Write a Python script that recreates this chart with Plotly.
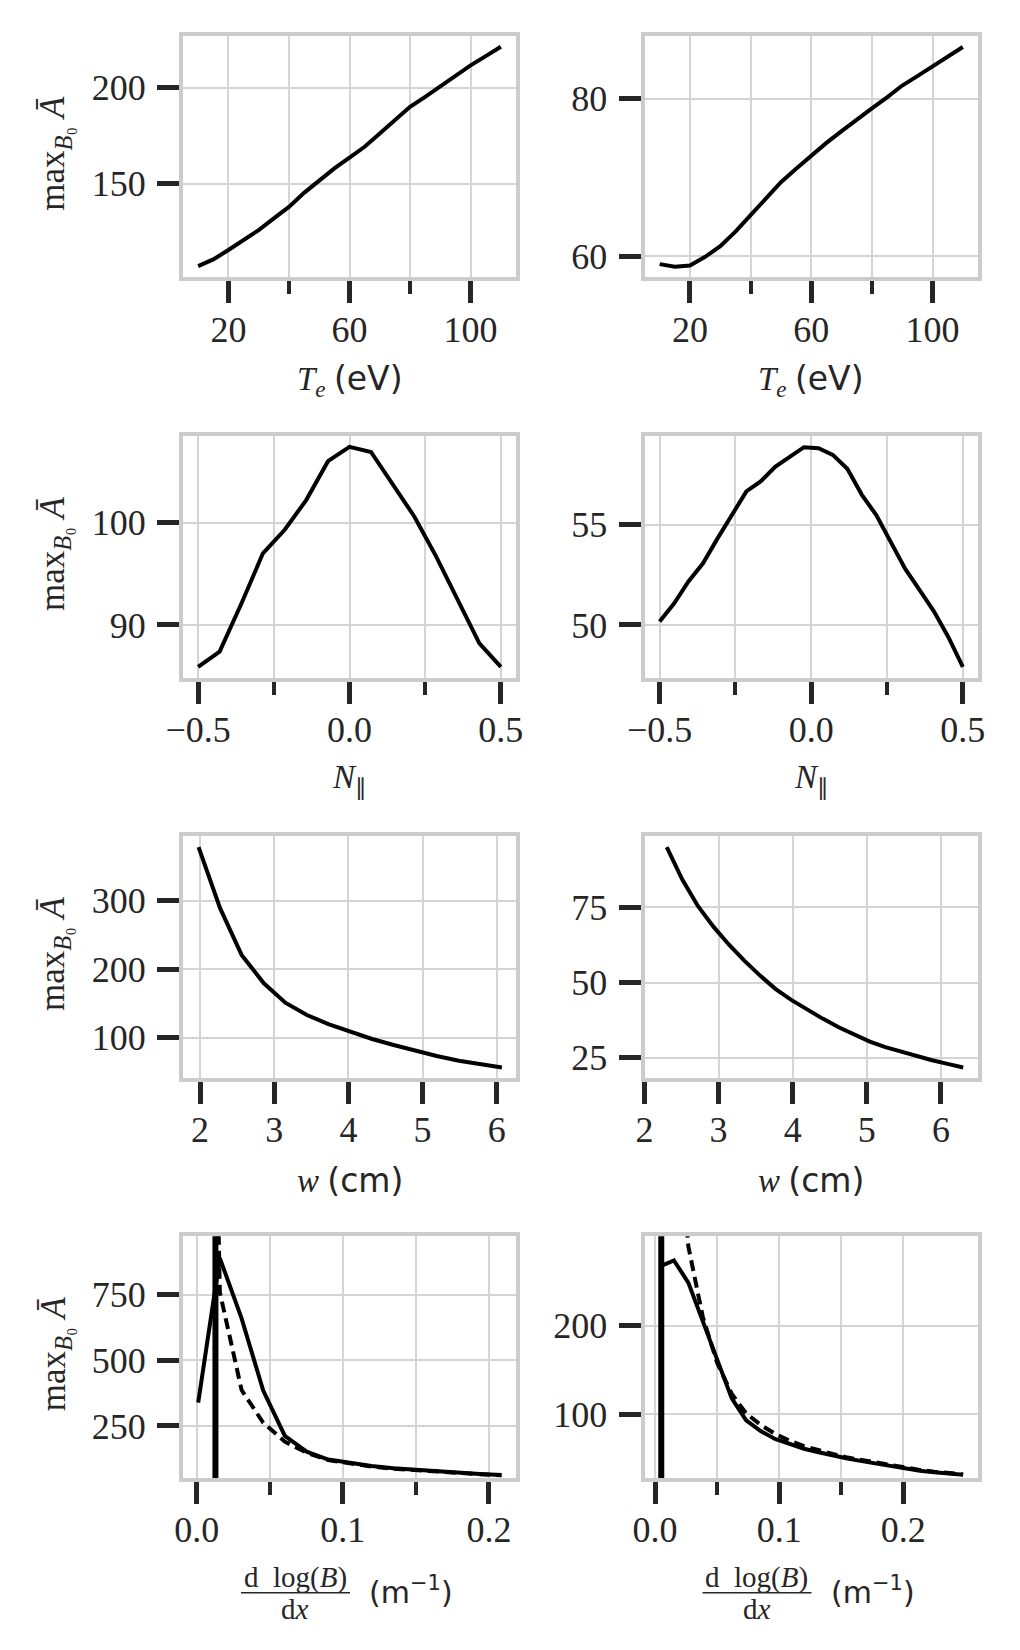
import plotly.graph_objects as go

# ---------------- data ----------------
te_ev = [10, 15, 20, 25, 30, 35, 40, 45, 50, 55, 60, 65, 70, 75, 80, 85, 90, 95, 100, 105, 110]
te_left = [107.1, 110.6, 115.5, 120.7, 125.9, 132.0, 138.0, 145.3, 151.9, 158.0, 163.7,
           169.3, 176.2, 183.5, 190.1, 195.3, 200.9, 206.1, 211.7, 216.5, 221.4]
te_right = [58.98, 58.64, 58.8, 59.9, 61.27, 63.1, 65.2, 67.3, 69.4, 71.1, 72.8,
            74.4, 75.9, 77.4, 78.8, 80.2, 81.7, 82.9, 84.1, 85.4, 86.6]

npar_left_x = [-0.5, -0.429, -0.357, -0.286, -0.214, -0.143, -0.071, 0.0,
               0.071, 0.143, 0.214, 0.286, 0.357, 0.429, 0.5]
npar_left_y = [85.9, 87.4, 92.1, 97.0, 99.3, 102.2, 106.0, 107.4,
               106.9, 103.7, 100.6, 96.7, 92.4, 88.2, 85.9]
npar_right_x = [-0.5, -0.452, -0.405, -0.357, -0.310, -0.262, -0.214, -0.167, -0.119, -0.071, -0.024,
                0.024, 0.071, 0.119, 0.167, 0.214, 0.262, 0.310, 0.357, 0.405, 0.452, 0.5]
npar_right_y = [50.17, 51.08, 52.17, 53.08, 54.3, 55.5, 56.67, 57.17, 57.9, 58.4, 58.88,
                58.83, 58.5, 57.8, 56.5, 55.5, 54.1, 52.8, 51.75, 50.67, 49.4, 47.9]

w_left_x = [1.98, 2.27, 2.56, 2.86, 3.15, 3.44, 3.73, 4.02, 4.32, 4.61, 4.90, 5.19, 5.49, 5.78, 6.07]
w_left_y = [378.6, 289.3, 221.0, 179.5, 151.1, 133.1, 119.9, 108.7, 98.0, 89.2, 80.9, 73.1, 66.3, 61.0, 56.5]
w_right_x = [2.30, 2.51, 2.72, 2.93, 3.14, 3.35, 3.56, 3.77, 3.98, 4.19, 4.41, 4.62, 4.83, 5.04,
             5.25, 5.46, 5.67, 5.88, 6.09, 6.30]
w_right_y = [95.1, 84.3, 75.5, 68.6, 62.6, 57.2, 52.3, 47.8, 44.2, 41.0, 37.9, 35.1, 32.6, 30.3,
             28.5, 27.0, 25.5, 24.1, 22.9, 21.7]

grad_left_x = [0.001, 0.0158, 0.0307, 0.0455, 0.0603, 0.0752, 0.0900, 0.1048, 0.1197, 0.1345,
               0.1493, 0.1642, 0.1790, 0.1938, 0.2086]
grad_left_solid = [339, 890, 660, 385, 212, 152, 122, 108, 97, 89, 83, 77, 72, 67, 63]
grad_left_dashed = [5000, 760, 387, 262, 190, 148, 120, 106, 95, 87, 81, 75, 70, 66, 62]

grad_right_x = [0.0035, 0.0152, 0.0268, 0.0385, 0.0501, 0.0618, 0.0734, 0.0851, 0.0967, 0.1084, 0.1200,
                0.1317, 0.1433, 0.1550, 0.1666, 0.1783, 0.1900, 0.2016, 0.2133, 0.2249, 0.2366, 0.2482]
grad_right_solid = [267, 274, 249, 205, 160, 118, 93, 81, 72, 66, 61, 57, 53, 50, 47, 44, 41, 38, 36,
                    34.5, 33, 31.5]
grad_right_dashed = [2100, 500, 290, 210, 158, 123, 101, 88, 78, 70, 64, 59, 55, 51, 48, 45, 42, 39.5,
                     37, 35, 33.5, 32]
grad_vline = [0.0128, 0.0050]

# tick definitions
te_major = [20, 60, 100]
te_major_text = ["20", "60", "100"]
te_minor = [40, 80]
npar_major = [-0.5, 0.0, 0.5]
npar_major_text = ["\u22120.5", "0.0", "0.5"]
npar_minor = [-0.25, 0.25]
w_major = [2, 3, 4, 5, 6]
w_major_text = ["2", "3", "4", "5", "6"]
grad_major = [0.0, 0.1, 0.2]
grad_major_text = ["0.0", "0.1", "0.2"]
grad_minor = [0.05, 0.15]

y_ticks = [[150, 200], [60, 80], [90, 100], [50, 55], [100, 200, 300], [25, 50, 75],
           [250, 500, 750], [100, 200]]
x_ranges = [[5, 115], [5, 115], [-0.55, 0.55], [-0.55, 0.55], [1.77, 6.26], [2.0, 6.5],
            [-0.0094, 0.2185], [-0.0085, 0.2602]]
y_ranges = [[101.3, 227.0], [57.3, 88.0], [84.82, 108.46], [47.35, 59.44], [41.0, 394.8],
            [18.2, 98.8], [51.5, 973.0], [27.9, 301.3]]

# ---------------- layout geometry (pixels) ----------------
W, H = 1020, 1650
col_px = [(183.0, 516.0), (644.5, 978.0)]
row_px = [(36.0, 277.3), (436.0, 678.0), (836.0, 1078.0), (1236.3, 1478.0)]

FRAME = "#cccccc"
GRID = "#d4d4d4"
INK = "#262626"
SERIF = "Liberation Serif"
SANS = "DejaVu Sans"
TICK_SIZE = 36

fig = go.Figure()

def ax_name(i):
    return "" if i == 1 else str(i)

x_tick_sets = [
    (te_major, te_major_text, te_minor), (te_major, te_major_text, te_minor),
    (npar_major, npar_major_text, npar_minor), (npar_major, npar_major_text, npar_minor),
    (w_major, w_major_text, []), (w_major, w_major_text, []),
    (grad_major, grad_major_text, grad_minor), (grad_major, grad_major_text, grad_minor),
]

layout = dict(width=W, height=H, margin=dict(l=0, r=0, t=0, b=0, autoexpand=False),
              plot_bgcolor="white", paper_bgcolor="white", showlegend=False)

for i in range(1, 9):
    r, c = (i - 1) // 2, (i - 1) % 2
    x0, x1 = col_px[c]
    yt, yb = row_px[r]
    major, major_text, minor = x_tick_sets[i - 1]
    common = dict(showline=True, linecolor=FRAME, linewidth=4, mirror=True, automargin=False,
                  showgrid=True, gridcolor=GRID, gridwidth=1.5, zeroline=False,
                  ticks="outside", tickwidth=5, ticklen=22, tickcolor=INK,
                  tickfont=dict(family=SERIF, size=TICK_SIZE, color=INK))
    xa = dict(common, domain=[x0 / W, x1 / W], anchor="y" + ax_name(i),
              range=x_ranges[i - 1], tickmode="array", tickvals=major, ticktext=major_text,
              ticklabelstandoff=-5)
    if minor:
        xa["minor"] = dict(tickmode="array", tickvals=minor, ticks="outside", ticklen=13,
                           tickwidth=4, tickcolor=INK, showgrid=True, gridcolor=GRID,
                           gridwidth=1.5)
    ya = dict(common, domain=[1 - yb / H, 1 - yt / H], anchor="x" + ax_name(i),
              range=y_ranges[i - 1], tickmode="array", tickvals=y_ticks[i - 1],
              ticktext=[str(v) for v in y_ticks[i - 1]], ticklabelstandoff=4)
    layout["xaxis" + ax_name(i)] = xa
    layout["yaxis" + ax_name(i)] = ya

fig.update_layout(**layout)

line_style = dict(color="black", width=4)

def add(i, x, y, dash=None):
    st = dict(line_style)
    if dash:
        st["dash"] = dash
    fig.add_trace(go.Scatter(x=x, y=y, mode="lines", line=st, hoverinfo="skip",
                             xaxis="x" + ax_name(i), yaxis="y" + ax_name(i)))

add(1, te_ev, te_left)
add(2, te_ev, te_right)
add(3, npar_left_x, npar_left_y)
add(4, npar_right_x, npar_right_y)
add(5, w_left_x, w_left_y)
add(6, w_right_x, w_right_y)
add(7, grad_left_x, grad_left_dashed, dash="11px,6px")
add(7, grad_left_x, grad_left_solid)
add(8, grad_right_x, grad_right_dashed, dash="11px,6px")
add(8, grad_right_x, grad_right_solid)

for k, i in enumerate([7, 8]):
    fig.add_shape(type="line", xref="x" + ax_name(i), yref="y" + ax_name(i) + " domain",
                  x0=grad_vline[k], x1=grad_vline[k], y0=0, y1=1,
                  line=dict(color="black", width=6))

# ---------------- axis titles ----------------
ann = []
ytitle = "max<sub><i>B</i>\u2080</sub> <i>\u0100</i>"
for r in range(4):
    yc = (row_px[r][0] + row_px[r][1]) / 2 - 3
    ann.append(dict(x=55 / W, y=1 - yc / H, xref="paper", yref="paper", text=ytitle,
                    textangle=-90, showarrow=False, xanchor="center", yanchor="middle",
                    font=dict(family=SERIF, size=35, color=INK)))

sans = lambda s: '<span style="font-family:DejaVu Sans">' + s + '</span>'
xtitles = ['<i>T</i><sub><i>e</i></sub> ' + sans("(eV)"),
           '<i>N</i><sub>\u2225</sub>',
           '<i>w</i> ' + sans("(cm)")]
xt_y = [380, 780, 1180]
for r in range(3):
    for c in range(2):
        xc = (col_px[c][0] + col_px[c][1]) / 2
        ann.append(dict(x=xc / W, y=1 - xt_y[r] / H, xref="paper", yref="paper",
                        text=xtitles[r], showarrow=False, xanchor="center", yanchor="middle",
                        font=dict(family=SERIF, size=33, color=INK)))

# fraction title for bottom row
for c in range(2):
    off = col_px[c][0] - col_px[0][0]
    fx = 295.3 + off
    ann.append(dict(x=fx / W, y=1 - 1577 / H, xref="paper", yref="paper",
                    text="d\u2002log(<i>B</i>)", showarrow=False, xanchor="center",
                    yanchor="middle", font=dict(family=SERIF, size=29, color=INK)))
    ann.append(dict(x=fx / W, y=1 - 1609 / H, xref="paper", yref="paper",
                    text="d<i>x</i>", showarrow=False, xanchor="center", yanchor="middle",
                    font=dict(family=SERIF, size=29, color=INK)))
    ann.append(dict(x=(411 + off) / W, y=1 - 1590 / H, xref="paper", yref="paper",
                    text="(m<sup>\u22121</sup>)", showarrow=False, xanchor="center",
                    yanchor="middle", font=dict(family=SANS, size=30, color=INK)))
    fig.add_shape(type="line", xref="paper", yref="paper",
                  x0=(241 + off) / W, x1=(350 + off) / W, y0=1 - 1592.7 / H, y1=1 - 1592.7 / H,
                  line=dict(color=INK, width=1.5))

fig.update_layout(annotations=ann)
fig.write_html("out.html")
